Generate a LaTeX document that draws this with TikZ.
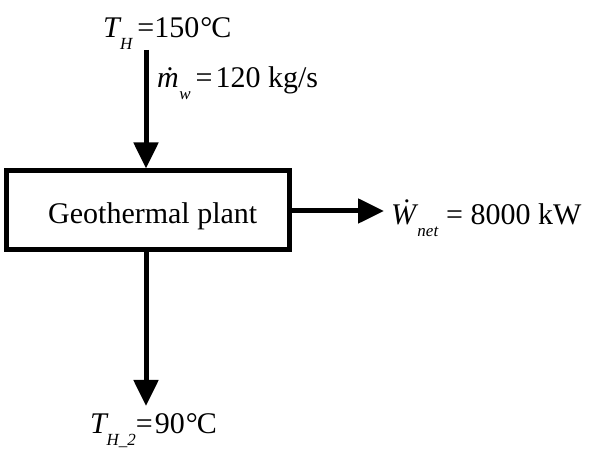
\documentclass[tikz,border=0pt]{standalone}
\usepackage{fontspec}
\setmainfont{Liberation Serif}
\usetikzlibrary{arrows.meta}
\newcommand{\lowsub}[1]{\raisebox{-0.38em}{\fontsize{17}{17}\selectfont\itshape #1}}
\begin{document}
\begin{tikzpicture}[x=1pt,y=-1pt,
  lbl/.style={inner sep=0pt,font=\fontsize{30}{30}\selectfont,anchor=base west},
  flow/.style={line width=5pt,-{Triangle[width=24pt,length=26pt]}},
  plantbox/.style={draw,line width=5pt,minimum width=282.5pt,minimum height=79pt,inner sep=0pt}]
\useasboundingbox (0,0) rectangle (590,449);
\node[plantbox] (plant) at (147.75,210.5) {};
\node[lbl] (ptext) at (48,224) {Geothermal plant};
\node[lbl] (th) at (103,38) {\textit{T}\kern-1.5pt\lowsub{H}\kern5pt=150\kern1pt°\kern-1pt C};
\node[lbl] (mw) at (157,88) {\textit{\.{m}}\kern0.5pt\lowsub{w}\kern5pt=\kern3pt120 kg/s};
\coordinate (top) at (146,50);
\coordinate (bot) at (146,406);
\coordinate (rt) at (384,211);
\node[lbl] (wnet) at (391,225) {\textit{\.{W}}\kern-1pt\lowsub{net}\kern8pt= 8000 kW};
\node[lbl] (th2) at (90,434) {\textit{T}\kern-2pt\lowsub{H\_2}\kern0pt=\kern2pt90\kern1pt°\kern-1pt C};
\draw[flow] (top) -- (top |- plant.north);
\draw[flow] (bot |- plant.south) -- (bot);
\draw[flow] (rt -| plant.east) -- (rt);
\end{tikzpicture}
\end{document}
